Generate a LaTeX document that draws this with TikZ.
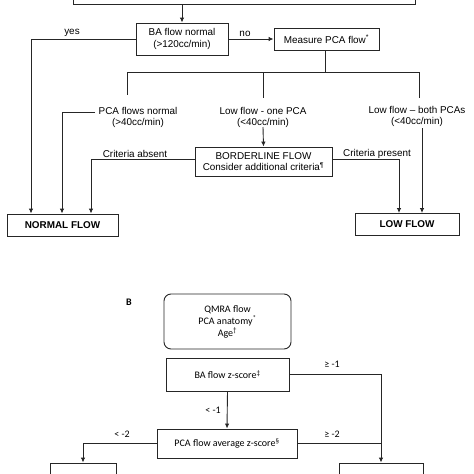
\documentclass[tikz,border=0pt]{standalone}
\usepackage{fontspec}
\setmainfont{Liberation Sans}
\newfontfamily\calfont{Carlito}
\usetikzlibrary{arrows.meta,calc}
\tikzset{
  box/.style={draw=black!85, line width=0.9pt, inner sep=0pt, align=center, font=\fontsize{9.9}{11.5}\selectfont},
  lbl/.style={inner sep=0pt, align=center, font=\fontsize{9.9}{11.5}\selectfont},
  bbox/.style={draw=black!85, line width=0.9pt, inner sep=0pt, align=center, font=\calfont\fontsize{10}{12}\selectfont},
  blbl/.style={inner sep=0pt, align=center, font=\calfont\fontsize{10}{12}\selectfont},
  conn/.style={draw=black!85, line width=0.9pt},
  arr/.style={conn, -{Latex[length=5pt,width=4.5pt]}},
}
\begin{document}
\begin{tikzpicture}[x=1pt,y=-1pt]
\useasboundingbox (0,0) rectangle (474,474);
\clip (0,0) rectangle (474,474);
% ---- Part A ----
\node[box, minimum width=342pt, minimum height=24pt] (top) at (244,-8) {};
\node[box, minimum width=92pt, minimum height=32pt] (ba) at (182,39) {BA flow normal\\(>120cc/min)};
\node[box, minimum width=105pt, minimum height=22pt] (meas) at (326.5,39) {Measure PCA flow\textsuperscript{*}};
\node[box, minimum width=111pt, minimum height=22pt, font=\bfseries\fontsize{9.9}{11.5}\selectfont] (normal) at (62.5,225) {NORMAL FLOW};
\node[box, minimum width=104pt, minimum height=22pt, font=\bfseries\fontsize{9.9}{11.5}\selectfont] (low) at (407,224.5) {LOW FLOW};
\node[box, minimum width=137pt, minimum height=29pt] (border) at (263.5,161.5) {BORDERLINE FLOW\\Consider additional criteria\textsuperscript{¶}};
\node[lbl] (pcan) at (138,117.5) {PCA flows normal\\(>40cc/min)};
\node[lbl] (one) at (263,117.5) {Low flow - one PCA\\(<40cc/min)};
\node[lbl] (both) at (417,116.5) {Low flow -- both PCAs\\(<40cc/min)};
\node[lbl] (yes) at (72,33) {yes};
\node[lbl] (no) at (245,34) {no};
\node[lbl] (cabs) at (135,154) {Criteria absent};
\node[lbl] (cpres) at (377,154) {Criteria present};
\coordinate (split) at (325,72);
\coordinate (sl) at (127,72);
\coordinate (sr) at (419,72);
\coordinate (pcanl) at (95,112);
\coordinate (bothb) at (422,128);
\coordinate (oneb) at (263,127);

\draw[arr] (top.south -| ba.north) -- (ba.north);
\draw[arr] (ba.east) -- (meas.west);
\draw[arr] (ba.west) -| (31,0 |- normal.north);
\draw[conn] (meas.south -| split) -- (split);
\draw[conn] (sl) -- (sr);
\draw[conn] (sl) -- ++(0,23);
\draw[conn] (sl -| one) -- ++(0,26);
\draw[conn] (sr) -- ++(0,26);
\draw[arr] (pcanl) -| (62,0 |- normal.north);
\draw[arr] (oneb) -- (border.north);
\draw[arr] ($(border.west)+(0,-2.5)$) -| (91,0 |- normal.north);
\draw[arr] ($(border.east)+(0,-2.5)$) -| (399,0 |- low.north);
\draw[arr] (bothb) -- (bothb |- low.north);

% ---- Part B ----
\node[blbl, font=\calfont\bfseries\fontsize{10}{12}\selectfont] (B) at (129,302) {B};
\node[bbox, rounded corners=7pt, minimum width=127pt, minimum height=55pt] (qmra) at (227.5,321.5) {QMRA flow\\PCA anatomy\textsuperscript{*}\\Age\textsuperscript{†}};
\node[bbox, minimum width=123pt, minimum height=33pt] (baz) at (227.5,374.5) {BA flow z-score\textsuperscript{‡}};
\node[bbox, minimum width=140pt, minimum height=29pt] (pcaz) at (227,443.5) {PCA flow average z-score\textsuperscript{§}};
\node[bbox, minimum width=66pt, minimum height=27pt] (lowb) at (83,476.5) {};
\node[bbox, minimum width=84pt, minimum height=27pt] (normb) at (381,476.5) {};
\node[blbl] (l1) at (213,410) {< -1};
\node[blbl] (g1) at (332,364) {≥ -1};
\node[blbl] (g2) at (332,434) {≥ -2};
\node[blbl] (l2) at (122,434) {< -2};
\draw[arr] (baz.south) -- (pcaz.north);
\draw[arr] (baz.east) -| (normb.north);
\draw[conn] (pcaz.east) -- (pcaz.east -| normb.north);
\draw[arr] (pcaz.west) -| (lowb.north);
\end{tikzpicture}
\end{document}
